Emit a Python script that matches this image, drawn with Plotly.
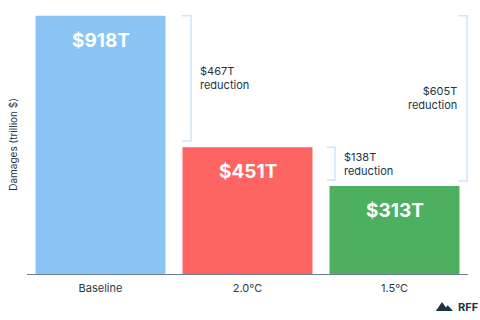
import plotly.graph_objects as go

categories = ["Baseline", "2.0°C", "1.5°C"]
damages = [918, 451, 313]
bar_labels = ["$918T", "$451T", "$313T"]
bar_colors = ["#89c4f4", "#fe6462", "#4daf60"]
reductions = [
    # (label, from index, to index)
    ("$467T", 0, 1),
    ("$605T", 0, 2),
    ("$138T", 1, 2),
]

FONT = "Inter, Roboto, sans-serif"
TXT = "#1d3444"
BR = "#cfe5fa"

fig = go.Figure()
fig.add_trace(go.Bar(
    x=categories, y=damages, marker=dict(color=bar_colors, line=dict(width=0)),
    hoverinfo="skip",
))

# bar value labels
for c, v, t in zip(categories, damages, bar_labels):
    fig.add_annotation(x=c, y=v, text=f"<b>{t}</b>", showarrow=False, yanchor="top",
                       yshift=-11, font=dict(family=FONT, size=19, color="white"))

# bracket geometry: (x of vertical, x of tick end, text x, text anchor, top, bottom)
brackets = [
    (0.6156, 0.554, 0.663, "left", damages[0], damages[1] + 22),
    (2.493, 2.432, 2.437, "right", damages[0], damages[2] + 18),
    (1.595, 1.541, 1.643, "left", damages[1], damages[2] + 21),
]
for (lab, i, j), (xv, xt, xtxt, anc, top, bot) in zip(reductions, brackets):
    path = f"M {xt},{top} L {xv},{top} L {xv},{bot} L {xt},{bot}"
    fig.add_shape(type="path", path=path, xref="x", yref="y",
                  line=dict(color=BR, width=1.5))
    fig.add_annotation(x=xtxt, y=(top + bot) / 2, text=f"{lab}<br>reduction",
                       showarrow=False, xanchor=anc, yanchor="middle", align=anc,
                       font=dict(family=FONT, size=11, color=TXT))

# y-axis title
fig.add_annotation(xref="paper", yref="paper", x=-0.031, y=0.48, text="Damages (trillion $)",
                   textangle=-90, showarrow=False, xanchor="center", yanchor="middle",
                   font=dict(family=FONT, size=10, color=TXT))

# RFF logo
fig.add_shape(type="path", xref="paper", yref="paper",
              path="M 0.927,-0.137 L 0.941,-0.104 L 0.950,-0.124 L 0.954,-0.116 L 0.966,-0.137 Z",
              fillcolor=TXT, line=dict(width=0))
fig.add_annotation(xref="paper", yref="paper", x=0.972, y=-0.122, text="<b>RFF</b>",
                   showarrow=False, xanchor="left", yanchor="middle",
                   font=dict(family=FONT, size=11, color=TXT))

fig.update_layout(
    width=480, height=320,
    margin=dict(l=27, r=12, t=4, b=46),
    paper_bgcolor="white", plot_bgcolor="white",
    bargap=0.116, showlegend=False,
    font=dict(family=FONT, color=TXT),
)
fig.update_xaxes(showline=True, linecolor="#6b7f8e", linewidth=1, ticks="",
                 ticklabelstandoff=4,
                 tickfont=dict(family=FONT, size=11, color="#2a3a46"), showgrid=False)
fig.update_yaxes(range=[0, 960], showticklabels=False, showgrid=False, zeroline=False,
                 ticks="")

fig.write_html("out.html")
